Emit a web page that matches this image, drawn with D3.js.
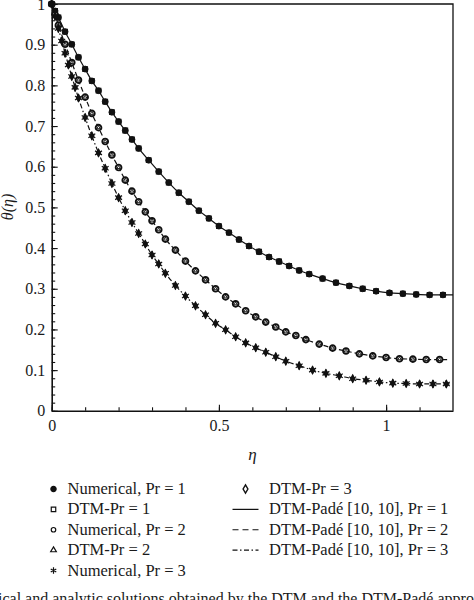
<!DOCTYPE html>
<html lang="en">
<head>
<meta charset="utf-8">
<title>theta(eta) profiles</title>
<script src="https://cdn.jsdelivr.net/npm/d3@7"></script>
<style>
  body { margin: 0; background: #fff; }
  svg text { font-family: "Liberation Serif", "DejaVu Serif", serif; fill: #1a1a1a; }
  .axis path, .axis line { stroke: #111; }
</style>
</head>
<body>
<script>
// eta positions and theta values
var etaPr1 = [0, 0.01, 0.02, 0.04, 0.06, 0.08, 0.10, 0.12, 0.14, 0.16, 0.18, 0.20, 0.22, 0.24, 0.26,
              0.29, 0.32, 0.35, 0.38, 0.41, 0.44, 0.47, 0.50, 0.53, 0.56, 0.59, 0.62, 0.65, 0.68, 0.71, 0.74, 0.77,
              0.81, 0.85, 0.89, 0.93, 0.97, 1.01, 1.05, 1.09, 1.13, 1.17];
var thetaPr1 = [1, 0.983, 0.967, 0.932, 0.901, 0.869, 0.840, 0.811, 0.787, 0.760, 0.734, 0.711, 0.689, 0.667, 0.645,
                0.616, 0.588, 0.561, 0.536, 0.514, 0.492, 0.473, 0.454, 0.438, 0.421, 0.405, 0.391, 0.378, 0.367, 0.356, 0.345, 0.336,
                0.325, 0.315, 0.307, 0.300, 0.294, 0.290, 0.288, 0.286, 0.285, 0.285];

var etaPr2 = [0, 0.01, 0.02, 0.04, 0.06, 0.08, 0.10, 0.12, 0.14, 0.16, 0.18, 0.20, 0.22, 0.24, 0.26, 0.28, 0.30, 0.32, 0.34,
              0.37, 0.40, 0.43, 0.46, 0.49, 0.52, 0.55, 0.58, 0.61, 0.64, 0.67, 0.70, 0.73, 0.76,
              0.80, 0.84, 0.88, 0.92, 0.96, 1.00, 1.04, 1.08, 1.12, 1.16];
var thetaPr2 = [1, 0.974, 0.948, 0.901, 0.856, 0.813, 0.771, 0.731, 0.696, 0.662, 0.629, 0.598, 0.567, 0.540, 0.514, 0.489, 0.467, 0.445, 0.422,
                0.395, 0.368, 0.344, 0.322, 0.300, 0.280, 0.263, 0.246, 0.231, 0.218, 0.206, 0.194, 0.185, 0.175,
                0.164, 0.154, 0.147, 0.140, 0.135, 0.131, 0.128, 0.127, 0.126, 0.126];

var etaPr3 = [0, 0.01, 0.02, 0.03, 0.04, 0.05, 0.06, 0.07, 0.08, 0.10, 0.12, 0.14, 0.16, 0.18, 0.20, 0.22, 0.24, 0.26, 0.28, 0.30, 0.32, 0.34,
              0.37, 0.40, 0.43, 0.46, 0.49, 0.52, 0.55, 0.58, 0.61, 0.64, 0.67, 0.70,
              0.74, 0.78, 0.82, 0.86, 0.90, 0.94, 0.98, 1.02, 1.06, 1.10, 1.14, 1.18];
var thetaPr3 = [1, 0.970, 0.940, 0.909, 0.879, 0.850, 0.822, 0.795, 0.769, 0.721, 0.676, 0.634, 0.596, 0.559, 0.524, 0.492, 0.463, 0.436, 0.410, 0.383, 0.361, 0.338,
                0.308, 0.282, 0.258, 0.236, 0.215, 0.199, 0.182, 0.167, 0.155, 0.144, 0.133, 0.122,
                0.111, 0.100, 0.092, 0.086, 0.079, 0.075, 0.071, 0.068, 0.067, 0.066, 0.066, 0.066];

// where each Pade curve stops on the right
var padeEnd = [1.2, 1.183, 1.19];

var yTickLabels = [0, 0.1, 0.2, 0.3, 0.4, 0.5, 0.6, 0.7, 0.8, 0.9, 1];
var xTickLabels = [0, 0.5, 1];

var legendLeft = ["Numerical, Pr = 1", "DTM-Pr = 1", "Numerical, Pr = 2", "DTM-Pr = 2", "Numerical, Pr = 3"];
var legendRight = ["DTM-Pr = 3", "DTM-Padé [10, 10], Pr = 1", "DTM-Padé [10, 10], Pr = 2", "DTM-Padé [10, 10], Pr = 3"];

var captionText = "ical and analytic solutions obtained by the DTM and the DTM-Padé approxima";

var w = 474;
var h = 600;

var xScale = d3.scaleLinear().domain([0, 1.2]).range([51.7, 453]);
var yScale = d3.scaleLinear().domain([0, 1]).range([410.8, 4]);

var svg = d3.select("body").append("svg")
            .attr("width", w)
            .attr("height", h);

//minor ticks first, then labelled ones
svg.append("g")
   .attr("class", "axis")
   .attr("transform", "translate(" + xScale(0) + ",0)")
   .call(d3.axisLeft(yScale).tickValues(d3.range(0, 1.001, 0.02)).tickSize(-3.5).tickSizeOuter(0).tickFormat(""))
   .call(function(g) { g.select(".domain").remove(); });

svg.append("g")
   .attr("class", "axis")
   .attr("transform", "translate(0," + yScale(0) + ")")
   .call(d3.axisBottom(xScale).tickValues(d3.range(0, 1.2, 0.1)).tickSize(-3.5).tickSizeOuter(0).tickFormat(""))
   .call(function(g) { g.select(".domain").remove(); });

var yAxis = svg.append("g")
   .attr("class", "axis")
   .attr("transform", "translate(" + xScale(0) + ",0)")
   .call(d3.axisLeft(yScale).tickValues(yTickLabels).tickSize(-6).tickSizeOuter(0).tickPadding(6.5)
          .tickFormat(d3.format("~g")));
yAxis.selectAll("text").attr("font-size", 16).style("font-family", "'Liberation Serif', serif").attr("fill", "#1a1a1a");

var xAxis = svg.append("g")
   .attr("class", "axis")
   .attr("transform", "translate(0," + yScale(0) + ")")
   .call(d3.axisBottom(xScale).tickValues(xTickLabels).tickSize(-6).tickSizeOuter(0).tickPadding(9)
          .tickFormat(d3.format("~g")));
xAxis.selectAll("text").attr("font-size", 16).style("font-family", "'Liberation Serif', serif").attr("fill", "#1a1a1a");

svg.selectAll(".axis .domain").attr("stroke-width", 1.6);
svg.selectAll(".axis .tick line").attr("stroke-width", 1.1);

// frame top and right
svg.append("path")
   .attr("d", "M" + xScale(0) + "," + yScale(1) + "H" + xScale(1.2) + "V" + yScale(0))
   .attr("fill", "none")
   .attr("stroke", "#111")
   .attr("stroke-width", 1.3);

// axis titles
svg.append("text")
   .attr("transform", "translate(13," + 207 + ") rotate(-90)")
   .attr("text-anchor", "middle")
   .attr("font-size", 16)
   .attr("font-style", "italic")
   .text("θ(η)");

svg.append("text")
   .attr("x", xScale(0.6))
   .attr("y", 460)
   .attr("text-anchor", "middle")
   .attr("font-size", 17)
   .attr("font-style", "italic")
   .text("η");

// Pade curves
var dashes = [null, "5,3", "5,2.5,1.5,2.5"];
var series = [
  { eta: etaPr1, theta: thetaPr1 },
  { eta: etaPr2, theta: thetaPr2 },
  { eta: etaPr3, theta: thetaPr3 }
];

var line = d3.line()
  .x(function(d) { return xScale(d[0]); })
  .y(function(d) { return yScale(d[1]); })
  .curve(d3.curveMonotoneX);

series.forEach(function(s, i) {
  var pts = s.eta.map(function(e, j) { return [e, s.theta[j]]; });
  pts.push([padeEnd[i], s.theta[s.theta.length - 1]]);
  svg.append("path")
     .datum(pts)
     .attr("d", line)
     .attr("fill", "none")
     .attr("stroke", "#111")
     .attr("stroke-width", 1.2)
     .attr("stroke-dasharray", dashes[i]);
});

// markers
var asterisk = function(r) {
  var p = "";
  for (var k = 0; k < 3; k++) {
    var a = Math.PI / 2 + k * Math.PI / 3;
    p += "M" + (r * Math.cos(a)) + "," + (r * Math.sin(a)) + "L" + (-r * Math.cos(a)) + "," + (-r * Math.sin(a));
  }
  return p;
};

var markerDefs = {
  num1: { d: d3.symbol(d3.symbolCircle, 28)(), fill: "#111", stroke: "#111", sw: 0.8 },
  dtm1: { d: d3.symbol(d3.symbolSquare, 22)(), fill: "none", stroke: "#111", sw: 1.1 },
  num2: { d: d3.symbol(d3.symbolCircle, 26)(), fill: "#fff", stroke: "#111", sw: 1.9 },
  dtm2: { d: d3.symbol(d3.symbolTriangle, 5)(), fill: "none", stroke: "#111", sw: 0.9 },
  num3: { d: asterisk(4), fill: "none", stroke: "#111", sw: 1.2 },
  dtm3: { d: d3.symbol(d3.symbolDiamond, 12)(), fill: "#333", stroke: "#111", sw: 1.6 }
};

function drawMarks(eta, theta, key) {
  var m = markerDefs[key];
  svg.append("g").selectAll("path")
     .data(eta.map(function(e, j) { return [e, theta[j]]; }))
     .enter()
     .append("path")
     .attr("transform", function(d) { return "translate(" + xScale(d[0]) + "," + yScale(d[1]) + ")"; })
     .attr("d", m.d)
     .attr("fill", m.fill)
     .attr("stroke", m.stroke)
     .attr("stroke-width", m.sw);
}

drawMarks(etaPr1, thetaPr1, "num1");
drawMarks(etaPr1, thetaPr1, "dtm1");
drawMarks(etaPr2, thetaPr2, "num2");
drawMarks(etaPr2, thetaPr2, "dtm2");
drawMarks(etaPr3, thetaPr3, "dtm3");
drawMarks(etaPr3, thetaPr3, "num3");

// legend
var rowY = d3.scaleLinear().domain([0, 4]).range([489, 570.5]);
var leftKeys = ["num1", "dtm1", "num2", "dtm2", "num3"];
var legendSymbols = [
  d3.symbol(d3.symbolCircle, 22)(),
  d3.symbol(d3.symbolSquare, 20)(),
  d3.symbol(d3.symbolCircle, 16)(),
  d3.symbol(d3.symbolTriangle, 14)(),
  asterisk(3.2)
];
var legendFill = ["#111", "none", "#fff", "none", "none"];

legendLeft.forEach(function(t, i) {
  svg.append("path")
     .attr("transform", "translate(53.5," + rowY(i) + ")")
     .attr("d", legendSymbols[i])
     .attr("fill", legendFill[i])
     .attr("stroke", "#111")
     .attr("stroke-width", 1.2);
  svg.append("text")
     .attr("x", 67.5)
     .attr("y", rowY(i) + 5)
     .attr("font-size", 16.5)
     .text(t);
});

legendRight.forEach(function(t, i) {
  if (i === 0) {
    svg.append("path")
       .attr("transform", "translate(245.5," + rowY(i) + ")")
       .attr("d", d3.symbol(d3.symbolDiamond, 20)())
       .attr("fill", "none")
       .attr("stroke", "#111")
       .attr("stroke-width", 1.4);
  } else {
    svg.append("line")
       .attr("x1", 232.5).attr("x2", 258.5)
       .attr("y1", rowY(i)).attr("y2", rowY(i))
       .attr("stroke", "#111")
       .attr("stroke-width", 1.2)
       .attr("stroke-dasharray", i === 2 ? "6,4" : dashes[i - 1]);
  }
  svg.append("text")
     .attr("x", 269)
     .attr("y", rowY(i) + 5)
     .attr("font-size", 16.5)
     .text(t);
});

// clipped caption line at the bottom edge
svg.append("text")
   .attr("x", -2)
   .attr("y", 604)
   .attr("font-size", 16)
   .text(captionText);
</script>
</body>
</html>
